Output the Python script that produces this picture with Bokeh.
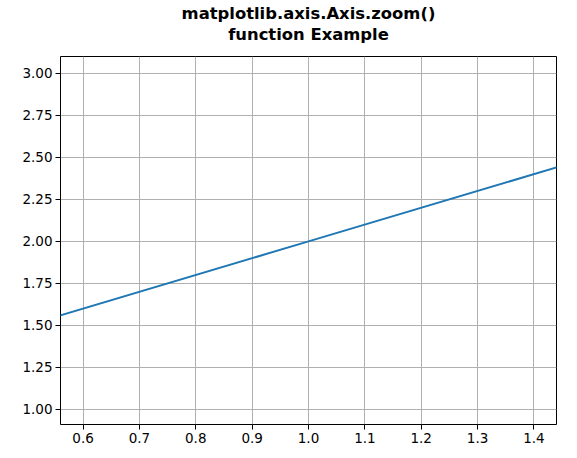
from bokeh.plotting import figure
from bokeh.models import Range1d, FixedTicker, Title, CustomJSTickFormatter
from bokeh.embed import file_html
from bokeh.resources import INLINE

x_vals = [0.5, 1.0, 1.5]
y_vals = [1.5, 2.0, 2.5]
x_ticks = [0.6, 0.7, 0.8, 0.9, 1.0, 1.1, 1.2, 1.3, 1.4]
y_ticks = [1.00, 1.25, 1.50, 1.75, 2.00, 2.25, 2.50, 2.75, 3.00]
title_lines = ["matplotlib.axis.Axis.zoom()", "function Example"]

W, H = 577, 458
BL, BR, BT, BB = 60, 21, 56, 34
p = figure(width=W, height=H, output_backend="svg", toolbar_location=None,
           x_range=Range1d(0.56, 1.44), y_range=Range1d(0.91, 3.1),
           min_border_left=BL, min_border_right=BR, min_border_top=BT, min_border_bottom=BB)
p.title.visible = False
p.background_fill_color = "white"
p.border_fill_color = "white"
p.outline_line_color = "black"
p.outline_line_width = 1

p.line(x_vals, y_vals, line_color="#1f77b4", line_width=2)

for ax in (p.xaxis[0], p.yaxis[0]):
    ax.major_label_text_font = "DejaVu Sans"
    ax.major_label_text_font_size = "13.5px"
    ax.major_label_text_color = "black"
    ax.major_tick_line_color = "black"
    ax.major_tick_out = 5
    ax.major_tick_in = 0
    ax.minor_tick_line_color = None
    ax.axis_line_color = None

p.xaxis.ticker = FixedTicker(ticks=x_ticks)
p.yaxis.ticker = FixedTicker(ticks=y_ticks)
p.xaxis.formatter = CustomJSTickFormatter(code="return tick.toFixed(1);")
p.yaxis.formatter = CustomJSTickFormatter(code="return tick.toFixed(2);")
p.xaxis.major_label_standoff = 3
p.yaxis.major_label_standoff = 3

for g in (p.xgrid[0], p.ygrid[0]):
    g.grid_line_color = "#b0b0b0"
    g.grid_line_width = 1
p.xgrid.ticker = FixedTicker(ticks=x_ticks)
p.ygrid.ticker = FixedTicker(ticks=y_ticks)

# spacer between frame and title block
p.add_layout(Title(text=" ", text_font_size="10px", standoff=0), "above")
for t in reversed(title_lines):
    p.add_layout(Title(text=t, align="center", text_font="DejaVu Sans",
                       text_font_style="bold", text_font_size="16.4px",
                       text_color="black", standoff=0, offset=0), "above")

open("out.html", "w").write(file_html(p, INLINE))
